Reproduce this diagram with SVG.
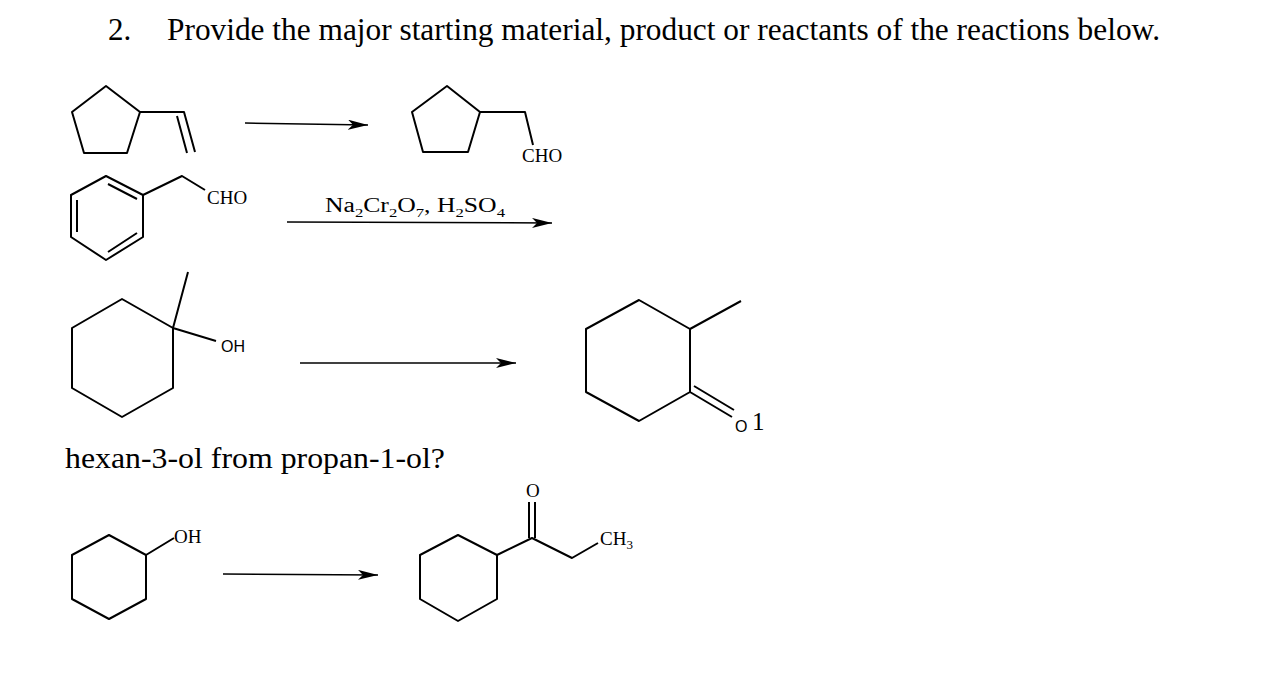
<svg xmlns="http://www.w3.org/2000/svg" width="1274" height="680" viewBox="0 0 1274 680">
<defs><marker id="ah" markerWidth="20" markerHeight="10" refX="20" refY="5" orient="auto" markerUnits="userSpaceOnUse"><path d="M0,0 L20,5 L0,10 L5,5 Z" fill="#000"/></marker></defs>
<style>.b{fill:none;stroke:#000;stroke-width:2;stroke-linejoin:round}.t{font-family:"Liberation Serif",serif;fill:#000}.s{font-family:"Liberation Sans",sans-serif;fill:#000}.a{stroke:#000;stroke-width:1.5;fill:none}</style>
<rect width="1274" height="680" fill="#fff"/>
<text class="t" x="108" y="40" font-size="31">2.</text>
<text class="t" x="167" y="40" font-size="31" textLength="993" lengthAdjust="spacingAndGlyphs">Provide the major starting material, product or reactants of the reactions below.</text>
<g id="m1"><path class="b" d="M106,86 L140,112 L127,153 L84,153 L72,112 Z M140,112 L184,112 L195,152 M177,116 L187,153"/></g>
<g id="m2"><path class="b" d="M447,86 L480,112 L468,152 L423,152 L412,112 Z M480,112 L525,112 L533,145"/><text class="t" x="522" y="162" font-size="19">CHO</text></g>
<g id="m3"><path class="b" d="M106,176 L143,195 L143,237 L106,260 L71,237 L71,195 Z M108,184 L137,199 M137,233 L108,252 M77,200 L77,232 M143,195 L182,176 L205,190"/><text class="t" x="207" y="204" font-size="19">CHO</text></g>
<g id="reagent"><text class="t" x="325" y="212" font-size="20" textLength="180" lengthAdjust="spacingAndGlyphs">Na<tspan font-size="13" dy="5">2</tspan><tspan dy="-5">Cr</tspan><tspan font-size="13" dy="5">2</tspan><tspan dy="-5">O</tspan><tspan font-size="13" dy="5">7</tspan><tspan dy="-5">, H</tspan><tspan font-size="13" dy="5">2</tspan><tspan dy="-5">SO</tspan><tspan font-size="13" dy="5">4</tspan></text></g>
<g id="m4"><path class="b" d="M122,299 L173,328 L173,388 L122,417 L72,388 L72,328 Z M173,328 L188,272 M173,328 L216,341"/><text class="s" x="221" y="352" font-size="16">OH</text></g>
<g id="m5"><path class="b" d="M639,300 L690,329 L690,392 L639,421 L586,392 L586,329 Z M690,329 L741,301 M690,392 L732,417 M694,386 L734,410"/><text class="s" x="735" y="432" font-size="16">O</text><text class="t" x="752" y="430" font-size="25">1</text></g>
<text class="t" x="65" y="468" font-size="30" textLength="380" lengthAdjust="spacingAndGlyphs">hexan-3-ol from propan-1-ol?</text>
<g id="m6"><path class="b" d="M109,535 L146,555 L146,599 L109,619 L72,599 L72,555 Z M146,555 L174,538"/><text class="t" x="174" y="543" font-size="19">OH</text></g>
<g id="m7"><path class="b" d="M458,535 L497,555 L497,599 L458,621 L420,599 L420,555 Z M497,555 L532,538 L572,558 L598,543 M529,538 L529,502 M535,538 L535,502"/><text class="t" x="526" y="497" font-size="19">O</text><text class="t" x="600" y="545" font-size="19">CH<tspan font-size="13" dy="4">3</tspan></text></g>
<g id="connectors">
<line class="a" x1="245" y1="123" x2="368" y2="125" marker-end="url(#ah)"/>
<line class="a" x1="287" y1="222" x2="552" y2="223" marker-end="url(#ah)"/>
<line class="a" x1="300" y1="363" x2="516" y2="363" marker-end="url(#ah)"/>
<line class="a" x1="223" y1="574" x2="378" y2="575" marker-end="url(#ah)"/>
</g>
</svg>
